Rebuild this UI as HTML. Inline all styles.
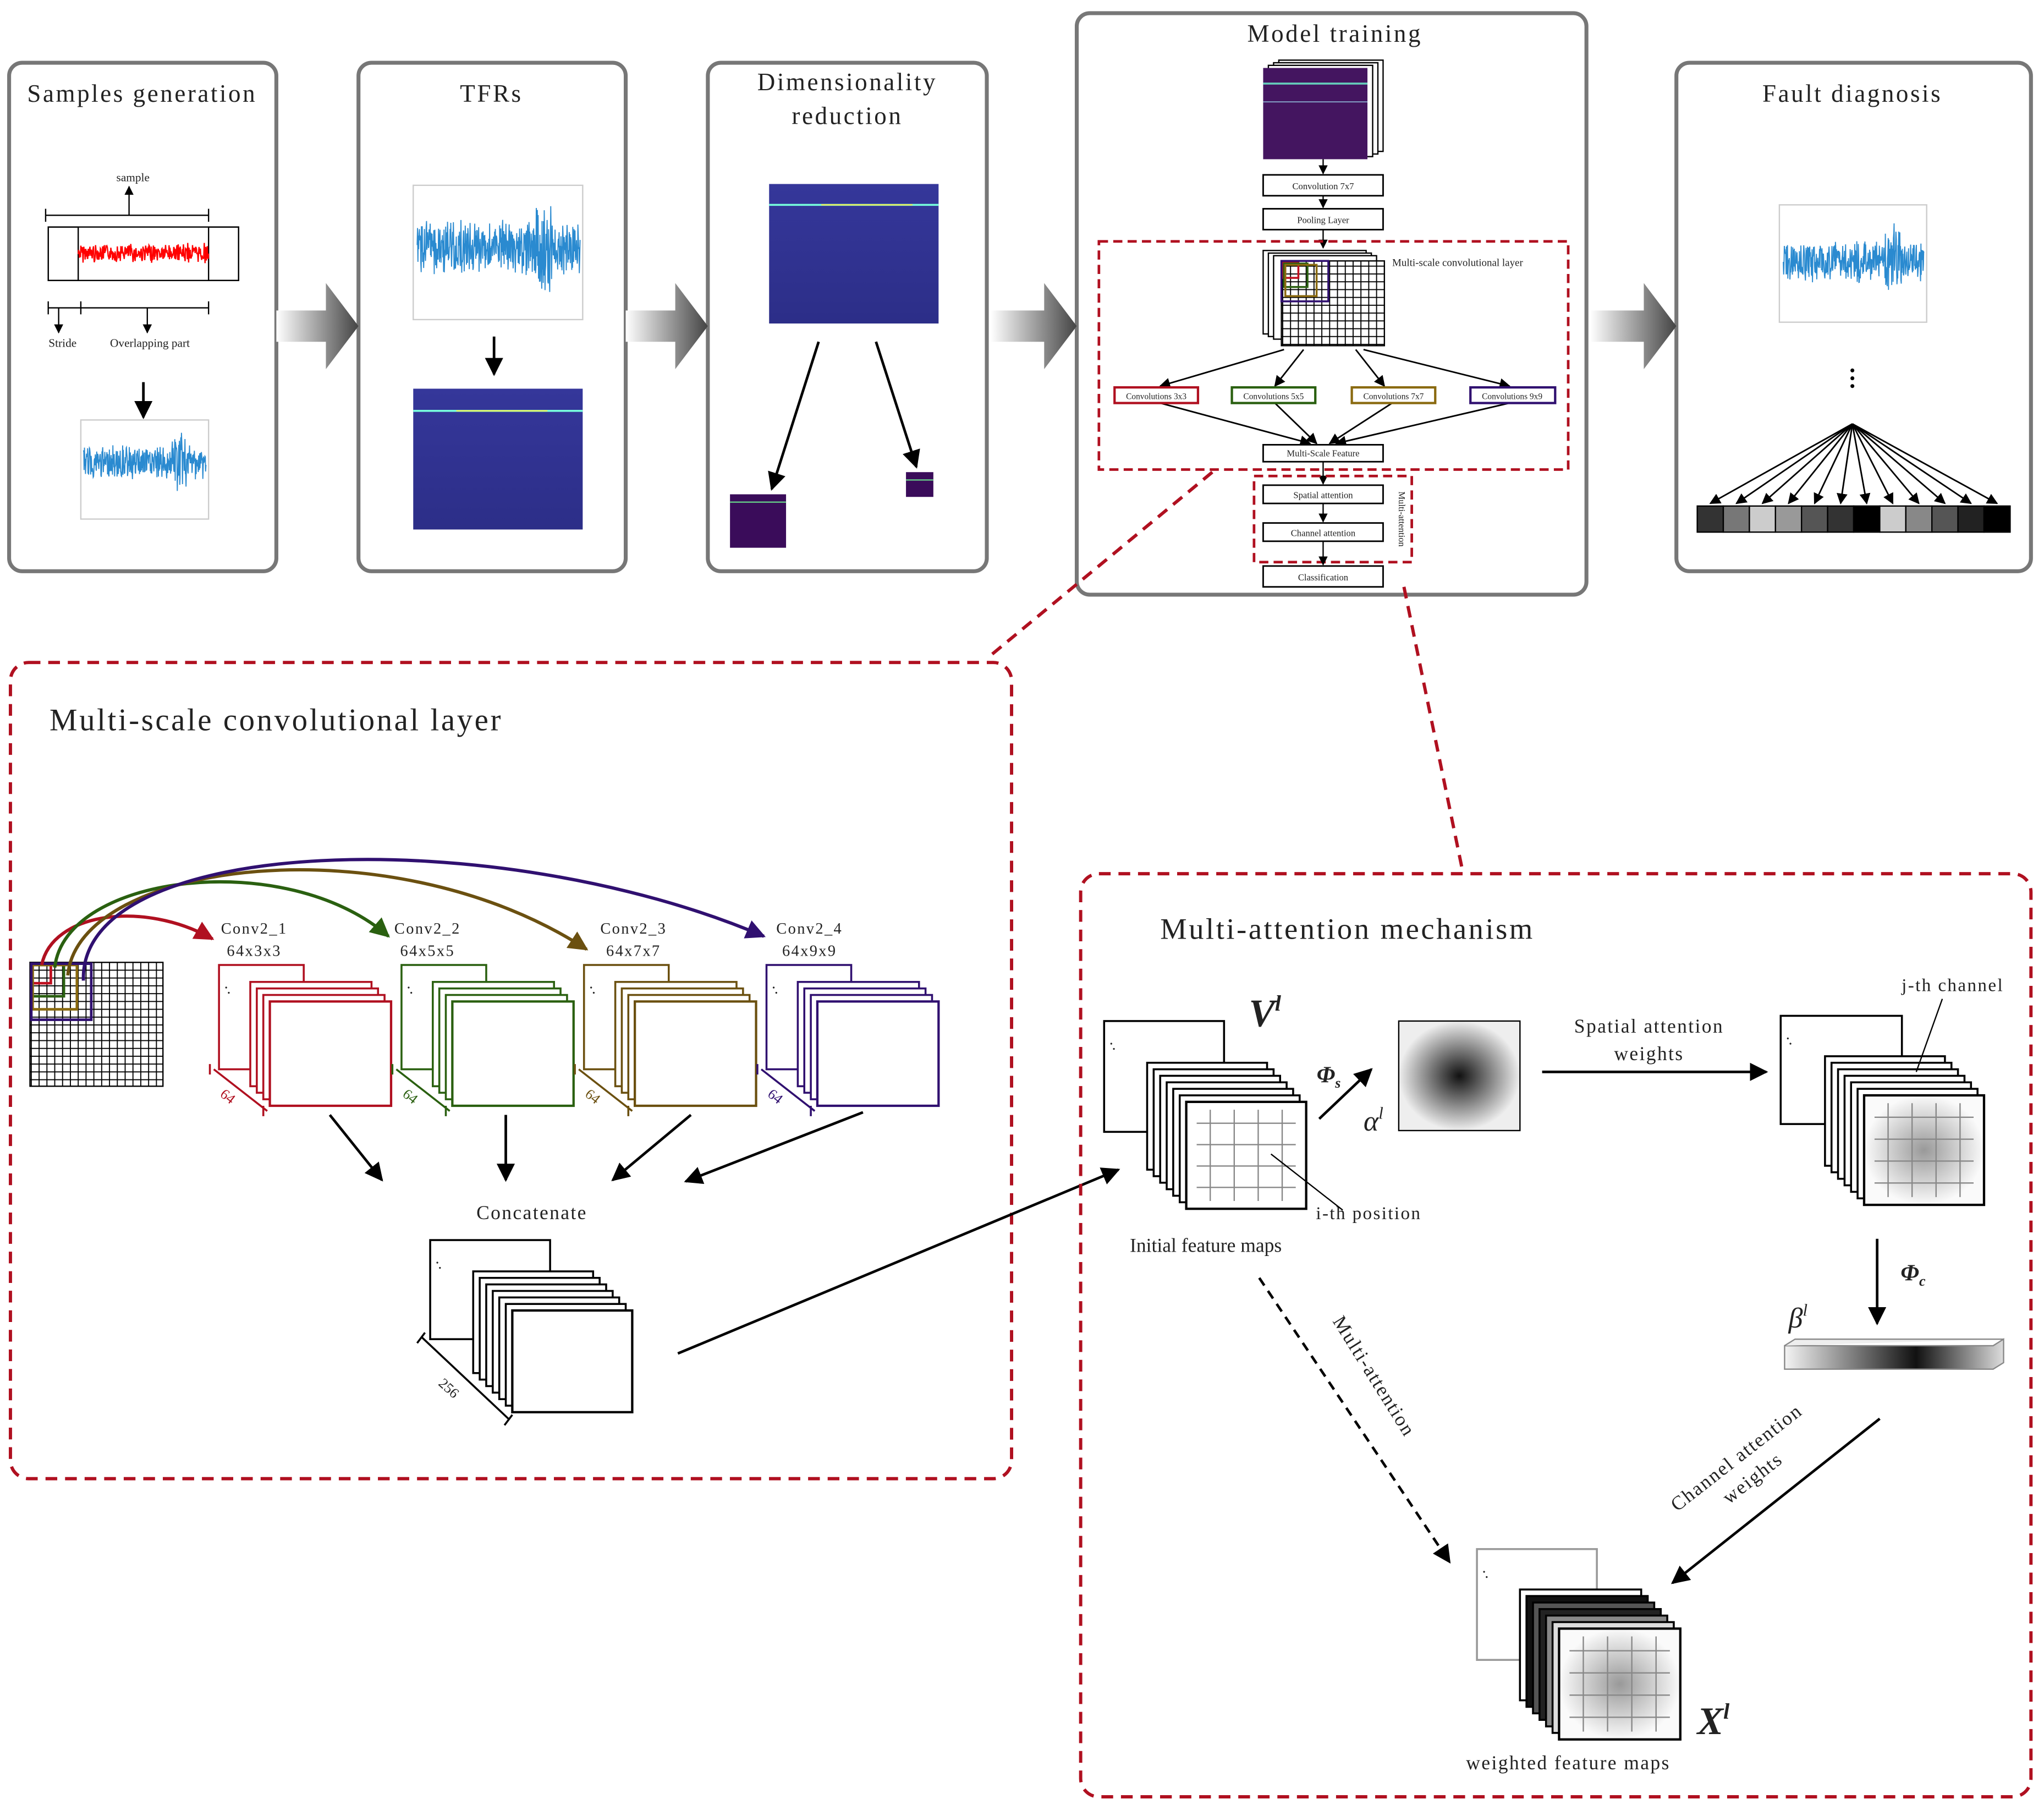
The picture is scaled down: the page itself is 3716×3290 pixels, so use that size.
<!DOCTYPE html>
<html><head><meta charset="utf-8">
<style>
html,body{margin:0;padding:0;background:#fff}
svg{display:block}
text{font-family:"Liberation Serif",serif;fill:#222}
</style></head><body>
<svg id="s" width="3716" height="3290" viewBox="0 0 1568 1388" xmlns="http://www.w3.org/2000/svg">
<defs>
<marker id="a" viewBox="0 0 10 10" refX="9" refY="5" markerWidth="7" markerHeight="7" orient="auto-start-reverse"><path d="M0,0L10,5L0,10z" fill="#000"/></marker>
<marker id="ar" viewBox="0 0 10 10" refX="9" refY="5" markerWidth="6" markerHeight="6" orient="auto"><path d="M0,0L10,5L0,10z" fill="#b01020"/></marker>
<marker id="ag" viewBox="0 0 10 10" refX="9" refY="5" markerWidth="6" markerHeight="6" orient="auto"><path d="M0,0L10,5L0,10z" fill="#2a6010"/></marker>
<marker id="ao" viewBox="0 0 10 10" refX="9" refY="5" markerWidth="6" markerHeight="6" orient="auto"><path d="M0,0L10,5L0,10z" fill="#6b5010"/></marker>
<marker id="ap" viewBox="0 0 10 10" refX="9" refY="5" markerWidth="6" markerHeight="6" orient="auto"><path d="M0,0L10,5L0,10z" fill="#301070"/></marker>
<linearGradient id="garr" x1="0" x2="1"><stop offset="0" stop-color="#fff"/><stop offset="1" stop-color="#444"/></linearGradient>
<radialGradient id="rg"><stop offset="0" stop-color="#111"/><stop offset="1" stop-color="#eee"/></radialGradient>
<radialGradient id="rg2"><stop offset="0" stop-color="#999"/><stop offset="1" stop-color="#fafafa"/></radialGradient>
<linearGradient id="gbar" x1="0" x2="1"><stop offset="0" stop-color="#f4f4f4"/><stop offset="0.6" stop-color="#111"/><stop offset="1" stop-color="#ddd"/></linearGradient>
<linearGradient id="spec" x1="0" y1="0" x2="0" y2="1"><stop offset="0" stop-color="#35379a"/><stop offset="1" stop-color="#2c2e88"/></linearGradient>
<pattern id="grid" width="6" height="6" patternUnits="userSpaceOnUse"><rect width="6" height="6" fill="#fff" stroke="#000" stroke-width="0.8"/></pattern>
</defs>

<g fill="#fff" stroke="#777" stroke-width="3">
<rect x="7" y="48" width="205" height="390" rx="10"/>
<rect x="275" y="48" width="205" height="390" rx="10"/>
<rect x="543" y="48" width="214" height="390" rx="10"/>
<rect x="826" y="10" width="391" height="446" rx="10"/>
<rect x="1286" y="48" width="272" height="390" rx="10"/>
</g>
<g font-size="19" text-anchor="middle" letter-spacing="1.5">
<text x="109" y="78">Samples generation</text>
<text x="377" y="78">TFRs</text>
<text x="650" y="69">Dimensionality</text>
<text x="650" y="95">reduction</text>
<text x="1024" y="32">Model training</text>
<text x="1421" y="78">Fault diagnosis</text>
</g>
<g fill="url(#garr)">
<path d="M212,238h38v-21l25,33l-25,33v-21h-38z"/>
<path d="M480,238h38v-21l25,33l-25,33v-21h-38z"/>
<path d="M760,238h41v-21l25,33l-25,33v-21h-41z"/>
<path d="M1220,238h41v-21l25,33l-25,33v-21h-41z"/>
</g>

<rect x="37" y="174" width="146" height="41" fill="#fff" stroke="#000"/>
<rect x="37" y="174" width="23" height="41" fill="none" stroke="#000"/>
<rect x="160" y="174" width="23" height="41" fill="none" stroke="#000"/>
<polyline id="sig1" fill="none" stroke="#f00" stroke-width="1"/>
<path d="M35,165H160M35,160v10M160,160v10" stroke="#000" fill="none"/>
<line x1="99" y1="165" x2="99" y2="143" stroke="#000" marker-end="url(#a)"/>
<text x="102" y="139" font-size="9" text-anchor="middle">sample</text>
<path d="M37,236H62M37,231v10M62,231v10M62,236H160M160,231v10" stroke="#000" fill="none"/>
<line x1="45" y1="236" x2="45" y2="255" stroke="#000" marker-end="url(#a)"/>
<line x1="113" y1="236" x2="113" y2="255" stroke="#000" marker-end="url(#a)"/>
<text x="48" y="266" font-size="9" text-anchor="middle">Stride</text>
<text x="115" y="266" font-size="9" text-anchor="middle">Overlapping part</text>
<line x1="110" y1="293" x2="110" y2="320" stroke="#000" stroke-width="2" marker-end="url(#a)"/>
<rect x="62" y="322" width="98" height="76" fill="#fff" stroke="#ccc"/>
<polyline id="sig2" fill="none" stroke="#2a8ad0" stroke-width="0.8"/>

<rect x="317" y="142" width="130" height="103" fill="#fff" stroke="#ccc"/>
<polyline id="sig3" fill="none" stroke="#2a8ad0" stroke-width="0.8"/>
<line x1="379" y1="258" x2="379" y2="287" stroke="#000" stroke-width="2" marker-end="url(#a)"/>
<rect x="317" y="298" width="130" height="108" fill="url(#spec)"/>
<line x1="317" y1="315" x2="447" y2="315" stroke="#7fd" stroke-width="1.5"/>
<line x1="350" y1="315" x2="420" y2="315" stroke="#ee5" stroke-width="1"/>

<rect x="590" y="141" width="130" height="107" fill="url(#spec)"/>
<line x1="590" y1="157" x2="720" y2="157" stroke="#7fd" stroke-width="1.5"/>
<line x1="630" y1="157" x2="700" y2="157" stroke="#ee5" stroke-width="1"/>
<line x1="628" y1="262" x2="592" y2="375" stroke="#000" stroke-width="2" marker-end="url(#a)"/>
<line x1="672" y1="262" x2="703" y2="358" stroke="#000" stroke-width="2" marker-end="url(#a)"/>
<rect x="560" y="379" width="43" height="41" fill="#3a0c5a"/>
<line x1="560" y1="385" x2="603" y2="385" stroke="#6c8" stroke-width="1"/>
<rect x="695" y="362" width="21" height="19" fill="#3a0c5a"/>
<line x1="695" y1="368" x2="716" y2="368" stroke="#6c8" stroke-width="1"/>

<g stroke="#000" fill="#fff">
<rect x="981" y="46" width="80" height="70"/>
<rect x="977" y="48" width="80" height="70"/>
<rect x="973" y="50" width="80" height="70"/>
</g>
<rect x="969" y="52" width="80" height="70" fill="#441560"/>
<line x1="969" y1="64" x2="1049" y2="64" stroke="#6cb" stroke-width="1.5"/>
<line x1="969" y1="78" x2="1049" y2="78" stroke="#8ac" stroke-width="0.8"/>
<g stroke="#000" fill="#fff" stroke-width="1.2">
<rect x="969" y="134" width="92" height="16"/>
<rect x="969" y="160" width="92" height="16"/>
</g>
<g font-size="7" text-anchor="middle">
<text x="1015" y="145">Convolution 7x7</text>
<text x="1015" y="171">Pooling Layer</text>
</g>
<line x1="1015" y1="122" x2="1015" y2="133" stroke="#000" marker-end="url(#a)"/>
<line x1="1015" y1="150" x2="1015" y2="159" stroke="#000" marker-end="url(#a)"/>
<line x1="1015" y1="176" x2="1015" y2="190" stroke="#000" marker-end="url(#a)"/>
<rect x="843" y="185" width="360" height="175" fill="none" stroke="#b01020" stroke-width="2" stroke-dasharray="7,4"/>
<g stroke="#000" fill="#fff">
<rect x="969" y="192" width="79" height="64"/>
<rect x="973" y="194" width="79" height="64"/>
<rect x="977" y="196" width="79" height="64"/>
</g>
<rect x="983" y="200" width="79" height="65" fill="url(#grid)" stroke="#000"/>
<rect x="984" y="201" width="12" height="12" fill="none" stroke="#c01020" stroke-width="1.5"/>
<rect x="985" y="202" width="18" height="18" fill="none" stroke="#2a6010" stroke-width="1.5"/>
<rect x="986" y="203" width="24" height="24" fill="none" stroke="#8a6a10" stroke-width="1.5"/>
<rect x="983" y="200" width="36" height="31" fill="none" stroke="#301070" stroke-width="1.5"/>
<text x="1068" y="204" font-size="8">Multi-scale convolutional layer</text>
<g stroke="#000" stroke-width="1.2" marker-end="url(#a)">
<line x1="985" y1="268" x2="890" y2="296"/>
<line x1="1000" y1="268" x2="978" y2="296"/>
<line x1="1040" y1="268" x2="1062" y2="296"/>
<line x1="1046" y1="268" x2="1158" y2="296"/>
<line x1="890" y1="309" x2="1005" y2="340"/>
<line x1="978" y1="309" x2="1010" y2="340"/>
<line x1="1068" y1="309" x2="1020" y2="340"/>
<line x1="1158" y1="309" x2="1025" y2="340"/>
</g>
<g fill="#fff" stroke-width="1.8">
<rect x="855" y="297" width="64" height="12" stroke="#b01020"/>
<rect x="945" y="297" width="64" height="12" stroke="#2a6010"/>
<rect x="1037" y="297" width="64" height="12" stroke="#8a6a10"/>
<rect x="1128" y="297" width="65" height="12" stroke="#301070"/>
</g>
<g font-size="6.5" text-anchor="middle">
<text x="887" y="306">Convolutions 3x3</text>
<text x="977" y="306">Convolutions 5x5</text>
<text x="1069" y="306">Convolutions 7x7</text>
<text x="1160" y="306">Convolutions 9x9</text>
</g>
<rect x="969" y="341" width="92" height="13" fill="#fff" stroke="#000" stroke-width="1.2"/>
<text x="1015" y="350" font-size="7" text-anchor="middle">Multi-Scale Feature</text>
<line x1="1015" y1="354" x2="1015" y2="371" stroke="#000" marker-end="url(#a)"/>
<rect x="962" y="365" width="121" height="66" fill="none" stroke="#b01020" stroke-width="2" stroke-dasharray="7,4"/>
<g fill="#fff" stroke="#000" stroke-width="1.2">
<rect x="969" y="372" width="92" height="14"/>
<rect x="969" y="401" width="92" height="14"/>
<rect x="969" y="434" width="92" height="16"/>
</g>
<g font-size="7" text-anchor="middle">
<text x="1015" y="382">Spatial attention</text>
<text x="1015" y="411">Channel attention</text>
<text x="1015" y="445">Classification</text>
</g>
<line x1="1015" y1="386" x2="1015" y2="400" stroke="#000" marker-end="url(#a)"/>
<line x1="1015" y1="415" x2="1015" y2="433" stroke="#000" marker-end="url(#a)"/>
<text x="1073" y="398" font-size="7" text-anchor="middle" transform="rotate(90 1073 398)">Multi-attention</text>

<rect x="1365" y="157" width="113" height="90" fill="#fff" stroke="#ccc"/>
<polyline id="sig4" fill="none" stroke="#2a8ad0" stroke-width="0.8"/>
<g fill="#000"><circle cx="1421" cy="284" r="1.5"/><circle cx="1421" cy="290" r="1.5"/><circle cx="1421" cy="296" r="1.5"/></g>
<g id="fan" stroke="#000" stroke-width="1.2"></g>
<g id="bars"></g>

<line x1="930" y1="362" x2="757" y2="505" stroke="#b01020" stroke-width="2.5" stroke-dasharray="9,6"/>
<line x1="1077" y1="450" x2="1122" y2="668" stroke="#b01020" stroke-width="2.5" stroke-dasharray="9,6"/>

<rect x="8" y="508" width="768" height="626" rx="14" fill="none" stroke="#b01020" stroke-width="2.5" stroke-dasharray="9,6"/>
<text x="38" y="560" font-size="24" letter-spacing="1.5">Multi-scale convolutional layer</text>
<rect x="23" y="738" width="102" height="95" fill="url(#grid)" stroke="#000"/>
<rect x="25" y="740" width="14" height="14" fill="none" stroke="#c01020" stroke-width="2"/>
<rect x="25" y="740" width="24" height="24" fill="none" stroke="#2a6010" stroke-width="2"/>
<rect x="25" y="740" width="34" height="34" fill="none" stroke="#8a6a10" stroke-width="2"/>
<rect x="24" y="739" width="46" height="43" fill="none" stroke="#301070" stroke-width="2"/>
<path d="M32,740C40,700 110,690 163,720" fill="none" stroke="#b01020" stroke-width="2.5" marker-end="url(#ar)"/>
<path d="M42,742C50,670 220,650 298,718" fill="none" stroke="#2a6010" stroke-width="2.5" marker-end="url(#ag)"/>
<path d="M52,748C60,660 300,630 450,728" fill="none" stroke="#6b5010" stroke-width="2.5" marker-end="url(#ao)"/>
<path d="M64,752C60,640 380,630 586,718" fill="none" stroke="#301070" stroke-width="2.5" marker-end="url(#ap)"/>
<g id="stacks"></g>
<g font-size="12" text-anchor="middle" letter-spacing="1">
<text x="195" y="716">Conv2_1</text><text x="195" y="733">64x3x3</text>
<text x="328" y="716">Conv2_2</text><text x="328" y="733">64x5x5</text>
<text x="486" y="716">Conv2_3</text><text x="486" y="733">64x7x7</text>
<text x="621" y="716">Conv2_4</text><text x="621" y="733">64x9x9</text>
</g>
<g stroke="#000" stroke-width="2" marker-end="url(#a)">
<line x1="253" y1="855" x2="293" y2="905"/>
<line x1="388" y1="855" x2="388" y2="905"/>
<line x1="530" y1="855" x2="470" y2="905"/>
<line x1="662" y1="853" x2="526" y2="906"/>
<line x1="520" y1="1038" x2="858" y2="897"/>
</g>
<text x="408" y="935" font-size="15" text-anchor="middle" letter-spacing="1">Concatenate</text>

<rect x="829" y="670" width="729" height="708" rx="14" fill="none" stroke="#b01020" stroke-width="2.5" stroke-dasharray="9,6"/>
<text x="890" y="720" font-size="23" letter-spacing="1.5">Multi-attention mechanism</text>
<g id="rstacks"></g>
<text x="958" y="787" font-size="30" font-style="italic" font-weight="bold">V<tspan font-size="17" dy="-12">l</tspan></text>
<line x1="1012" y1="858" x2="1052" y2="820" stroke="#000" stroke-width="2" marker-end="url(#a)"/>
<text x="1010" y="830" font-size="18" font-style="italic" font-weight="bold">Φ<tspan font-size="11" dy="4">s</tspan></text>
<text x="1046" y="867" font-size="22" font-style="italic">α<tspan font-size="13" dy="-9">l</tspan></text>
<rect x="1073" y="783" width="93" height="84" fill="url(#rg)" stroke="#000"/>
<line x1="1183" y1="822" x2="1355" y2="822" stroke="#000" stroke-width="2" marker-end="url(#a)"/>
<text x="1265" y="792" font-size="15" text-anchor="middle" letter-spacing="1">Spatial attention</text>
<text x="1265" y="813" font-size="15" text-anchor="middle" letter-spacing="1">weights</text>
<text x="1498" y="760" font-size="14" text-anchor="middle" letter-spacing="1">j-th channel</text>
<line x1="1490" y1="766" x2="1470" y2="822" stroke="#000"/>
<text x="925" y="960" font-size="15" text-anchor="middle">Initial feature maps</text>
<text x="1050" y="935" font-size="14" text-anchor="middle" letter-spacing="1">i-th position</text>
<line x1="975" y1="885" x2="1030" y2="928" stroke="#000"/>
<line x1="1440" y1="950" x2="1440" y2="1015" stroke="#000" stroke-width="2" marker-end="url(#a)"/>
<text x="1458" y="982" font-size="18" font-style="italic" font-weight="bold">Φ<tspan font-size="11" dy="4">c</tspan></text>
<text x="1372" y="1018" font-size="22" font-style="italic">β<tspan font-size="13" dy="-9">l</tspan></text>
<path d="M1369,1032h160l8,-5v18l-8,5h-160z" fill="url(#gbar)" stroke="#888"/>
<path d="M1369,1032l8,-5h160" fill="#eee" stroke="#888"/>
<line x1="1442" y1="1088" x2="1283" y2="1214" stroke="#000" stroke-width="2" marker-end="url(#a)"/>
<g transform="rotate(-38 1340 1128)" font-size="15" text-anchor="middle" letter-spacing="1"><text x="1340" y="1120">Channel attention</text><text x="1340" y="1140">weights</text></g>
<line x1="966" y1="980" x2="1112" y2="1198" stroke="#000" stroke-width="2" stroke-dasharray="7,5" marker-end="url(#a)"/>
<text x="1050" y="1058" font-size="15" text-anchor="middle" transform="rotate(58 1050 1058)" letter-spacing="1">Multi-attention</text>
<text x="1302" y="1330" font-size="30" font-style="italic" font-weight="bold">X<tspan font-size="17" dy="-12">l</tspan></text>
<text x="1203" y="1357" font-size="15" text-anchor="middle" letter-spacing="1">weighted feature maps</text>
</svg>
<script>
var NS="http://www.w3.org/2000/svg";
function el(t,a,p){var e=document.createElementNS(NS,t);for(var k in a)e.setAttribute(k,a[k]);(p||document.getElementById('s')).appendChild(e);return e;}
var seed=7;function rnd(){seed=(seed*9301+49297)%233280;return seed/233280;}
function sig(id,x0,x1,yc,amp,n,burst){var p=[];for(var i=0;i<=n;i++){var x=x0+(x1-x0)*i/n;var t=i/n;var a=amp*(0.55+0.45*rnd()+(burst&&t>0.72&&t<0.84?0.7:0));p.push(x.toFixed(1)+","+(yc+(rnd()-0.5)*2*a).toFixed(1));}document.getElementById(id).setAttribute("points",p.join(" "));}
sig("sig1",60,160,194,8,300,false);
sig("sig2",64,158,355,14,350,true);
sig("sig3",320,445,190,22,450,true);
sig("sig4",1368,1476,200,18,400,true);
var cols=["#333","#777","#ccc","#999","#555","#333","#000","#ccc","#888","#555","#222","#000"];
var bx=1302,bw=240/12,fan=document.getElementById("fan"),bars=document.getElementById("bars");
for(var i=0;i<12;i++){el("rect",{x:bx+i*bw,y:388,width:bw,height:20,fill:cols[i],stroke:"#000"},bars);
el("line",{x1:1421,y1:325,x2:bx+i*bw+bw/2,y2:386,"marker-end":"url(#a)"},fan);}
function stack(g,bxp,byp,bwid,bh,fx,fy,fw,fh,n,col,grid,fill,backcol){
el("rect",{x:bxp,y:byp,width:bwid,height:bh,fill:"#fff",stroke:backcol||col,"stroke-width":1.5},g);
el("text",{x:bxp+4,y:byp+18,"font-size":12},g).textContent=".";
el("text",{x:bxp+6,y:byp+22,"font-size":12},g).textContent=".";
for(var i=0;i<n;i++){var k=n-i;el("rect",{x:fx-k*5,y:fy-k*5,width:fw,height:fh,fill:fill&&i<fill.length?fill[i]:"#fff",stroke:col,"stroke-width":1.5},g);}
el("rect",{x:fx,y:fy,width:fw,height:fh,fill:grid==2?"url(#rg2)":"#fff",stroke:col,"stroke-width":1.8},g);
if(grid){for(var j=1;j<5;j++){el("line",{x1:fx+8,y1:fy+j*fh/5,x2:fx+fw-8,y2:fy+j*fh/5,stroke:"#888"},g);el("line",{x1:fx+j*fw/5,y1:fy+6,x2:fx+j*fw/5,y2:fy+fh-6,stroke:"#888"},g);}}
}
var g=document.getElementById("stacks");
var cs=[["#b01020",168],["#2a6010",308],["#6b5010",448],["#301070",588]];
cs.forEach(function(c){var x=c[1];stack(g,x,740,65,80,x+39,768,93,80,3,c[0]);
el("path",{d:"M"+(x-4)+",820 L"+(x+37)+",852 M"+(x-7)+",816v8 M"+(x+34)+",848v8",stroke:c[0],fill:"none","stroke-width":1.5},g);
var t=el("text",{x:x+2,y:845,"font-size":11,fill:c[0],transform:"rotate(38 "+(x+8)+" 840)"},g);t.textContent="64";t.style.fill=c[0];});
stack(g,330,951,92,76,393,1005,92,78,6,"#000");
el("path",{d:"M323,1025 L390,1088 M320,1030l6,-8 M387,1093l6,-8",stroke:"#000",fill:"none","stroke-width":1.5},g);
el("text",{x:338,y:1068,"font-size":11,transform:"rotate(42 345 1062)"},g).textContent="256";
var r=document.getElementById("rstacks");
stack(r,847,783,92,85,910,845,92,82,6,"#000",1);
stack(r,1366,779,93,83,1430,840,92,84,6,"#000",2);
stack(r,1133,1188,92,85,1196,1249,93,85,6,"#000",2,["#fff","#111","#555","#222","#888","#ddd"],"#999");
</script>
</body></html>
